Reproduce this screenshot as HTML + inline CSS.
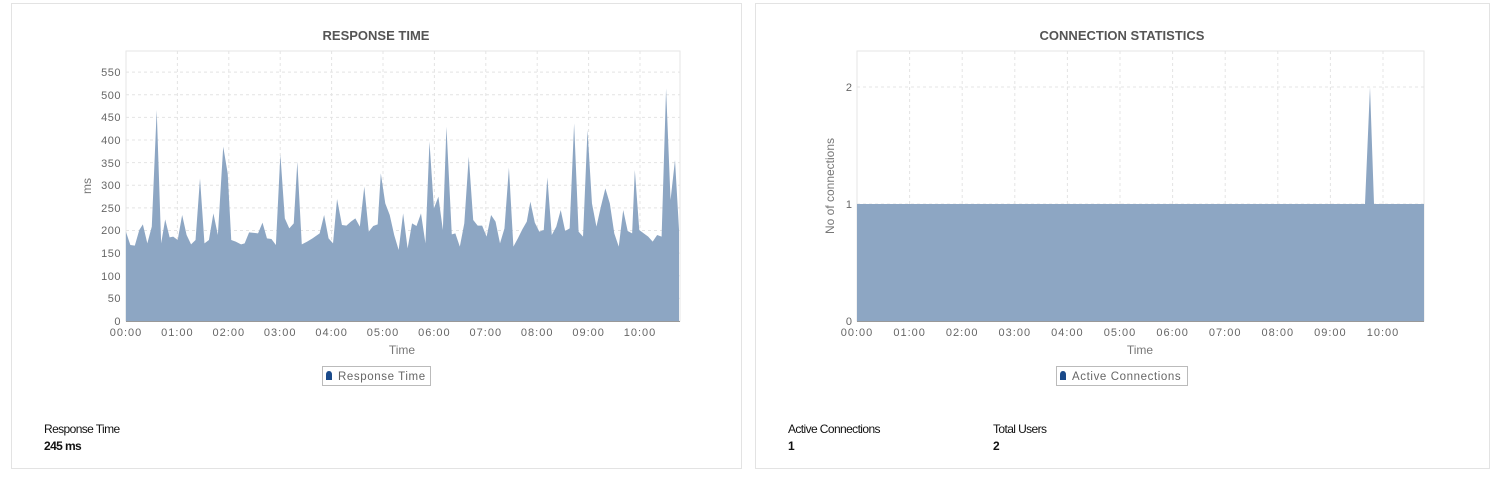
<!DOCTYPE html>
<html><head><meta charset="utf-8"><style>
body{margin:0;width:1500px;height:480px;background:#fff;position:relative;overflow:hidden;font-family:"Liberation Sans",sans-serif}
.card{position:absolute;border:1px solid #e3e3e3;background:#fff}
.t{position:absolute;font-size:12px;color:#111;letter-spacing:-0.6px}
.b{font-weight:bold}
svg text{font-family:"Liberation Sans",sans-serif}
</style></head><body>
<div class="card" style="left:11px;top:3px;width:729px;height:464px"></div>
<div class="card" style="left:755px;top:3px;width:733px;height:464px"></div>
<svg width="1500" height="480" style="position:absolute;left:0;top:0">
<!-- LEFT -->
<text x="376" y="40" text-anchor="middle" font-size="13" font-weight="bold" fill="#555">RESPONSE TIME</text>
<rect x="126" y="51" width="554" height="270" fill="#fff" stroke="#e6e6e6"/>
<g stroke="#e4e4e4" stroke-dasharray="3,3">
<line x1="126" x2="680" y1="298.4" y2="298.4"/><line x1="126" x2="680" y1="275.8" y2="275.8"/><line x1="126" x2="680" y1="253.1" y2="253.1"/><line x1="126" x2="680" y1="230.5" y2="230.5"/><line x1="126" x2="680" y1="207.9" y2="207.9"/><line x1="126" x2="680" y1="185.3" y2="185.3"/><line x1="126" x2="680" y1="162.6" y2="162.6"/><line x1="126" x2="680" y1="140" y2="140"/><line x1="126" x2="680" y1="117.4" y2="117.4"/><line x1="126" x2="680" y1="94.8" y2="94.8"/><line x1="126" x2="680" y1="72.1" y2="72.1"/>
<line x1="177.4" x2="177.4" y1="51" y2="321"/><line x1="228.8" x2="228.8" y1="51" y2="321"/><line x1="280.2" x2="280.2" y1="51" y2="321"/><line x1="331.6" x2="331.6" y1="51" y2="321"/><line x1="383" x2="383" y1="51" y2="321"/><line x1="434.4" x2="434.4" y1="51" y2="321"/><line x1="485.8" x2="485.8" y1="51" y2="321"/><line x1="537.2" x2="537.2" y1="51" y2="321"/><line x1="588.6" x2="588.6" y1="51" y2="321"/><line x1="640" x2="640" y1="51" y2="321"/>
</g>
<g transform="scale(0.44643,0.33333)"><polygon fill="#8da6c3" points="282,695 292,735 302,737 312,690 320,673 330,730 340,680 351,330 361,730 370,658 380,712 388,710 398,720 408,645 418,705 428,733 438,720 448,535 458,730 468,720 478,640 488,705 500,440 510,520 518,720 528,725 540,733 548,730 558,697 578,700 588,668 598,715 608,717 618,735 628,463 638,655 648,685 658,670 666,485 676,733 688,725 700,715 716,700 726,645 736,715 746,730 755,597 766,675 776,677 786,665 796,655 806,680 816,560 826,695 836,678 846,673 853,520 863,610 873,645 883,705 893,750 903,640 913,745 923,670 933,678 943,640 953,730 962,425 972,625 982,590 992,690 1000,380 1012,703 1020,700 1030,740 1040,670 1050,470 1060,660 1070,677 1080,677 1090,710 1100,645 1110,665 1120,730 1130,685 1140,503 1150,740 1160,715 1170,688 1180,665 1188,605 1198,668 1208,695 1218,690 1226,532 1236,705 1246,680 1256,630 1266,693 1276,685 1286,370 1296,695 1306,710 1316,390 1326,610 1336,680 1346,620 1356,565 1366,610 1376,700 1386,740 1396,630 1406,693 1416,700 1422,510 1432,690 1442,700 1452,710 1462,725 1472,705 1482,710 1492,265 1502,600 1512,480 1521,690 1521,963 282,963"/></g>
<line x1="126" x2="680" y1="321.5" y2="321.5" stroke="#999"/>
<g font-size="11" fill="#666" text-anchor="end" letter-spacing="0.5">
<text x="121" y="325">0</text><text x="121" y="302">50</text><text x="121" y="280">100</text><text x="121" y="257">150</text><text x="121" y="234">200</text><text x="121" y="212">250</text><text x="121" y="189">300</text><text x="121" y="167">350</text><text x="121" y="144">400</text><text x="121" y="121">450</text><text x="121" y="99">500</text><text x="121" y="76">550</text>
</g>
<g font-size="11" fill="#666" text-anchor="middle" letter-spacing="1">
<text x="126" y="336">00:00</text><text x="177.4" y="336">01:00</text><text x="228.8" y="336">02:00</text><text x="280.2" y="336">03:00</text><text x="331.6" y="336">04:00</text><text x="383" y="336">05:00</text><text x="434.4" y="336">06:00</text><text x="485.8" y="336">07:00</text><text x="537.2" y="336">08:00</text><text x="588.6" y="336">09:00</text><text x="640" y="336">10:00</text>
</g>
<text x="402" y="354" text-anchor="middle" font-size="12" fill="#777">Time</text>
<text transform="translate(91,186) rotate(-90)" text-anchor="middle" font-size="12" fill="#777">ms</text>
<rect x="322.5" y="366.5" width="108" height="19" fill="#fff" stroke="#bbb"/>
<path d="M326,380 L326,375 Q326,371 329,371 Q332,371 332,375 L332,380Z" fill="#1a4a8a"/>
<text x="338" y="380" font-size="11.5" fill="#666" letter-spacing="0.6">Response Time</text>
<!-- RIGHT -->
<text x="1122" y="40" text-anchor="middle" font-size="13" font-weight="bold" fill="#555">CONNECTION STATISTICS</text>
<rect x="857" y="51" width="567" height="270" fill="#fff" stroke="#e6e6e6"/>
<g stroke="#e4e4e4" stroke-dasharray="3,3">
<line x1="857" x2="1424" y1="87" y2="87"/><line x1="857" x2="1424" y1="204" y2="204"/>
<line x1="909.6" x2="909.6" y1="51" y2="321"/><line x1="962.2" x2="962.2" y1="51" y2="321"/><line x1="1014.8" x2="1014.8" y1="51" y2="321"/><line x1="1067.4" x2="1067.4" y1="51" y2="321"/><line x1="1120" x2="1120" y1="51" y2="321"/><line x1="1172.6" x2="1172.6" y1="51" y2="321"/><line x1="1225.2" x2="1225.2" y1="51" y2="321"/><line x1="1277.8" x2="1277.8" y1="51" y2="321"/><line x1="1330.4" x2="1330.4" y1="51" y2="321"/><line x1="1383" x2="1383" y1="51" y2="321"/>
</g>
<polygon fill="#8da6c3" points="857,204 1365,204 1370,87 1374,204 1424,204 1424,321 857,321"/>
<line x1="857" x2="1424" y1="321.5" y2="321.5" stroke="#999"/>
<g font-size="11" fill="#666" text-anchor="end"><text x="852" y="325">0</text><text x="852" y="208">1</text><text x="852" y="91">2</text></g>
<g font-size="11" fill="#666" text-anchor="middle" letter-spacing="1">
<text x="857" y="336">00:00</text><text x="909.6" y="336">01:00</text><text x="962.2" y="336">02:00</text><text x="1014.8" y="336">03:00</text><text x="1067.4" y="336">04:00</text><text x="1120" y="336">05:00</text><text x="1172.6" y="336">06:00</text><text x="1225.2" y="336">07:00</text><text x="1277.8" y="336">08:00</text><text x="1330.4" y="336">09:00</text><text x="1383" y="336">10:00</text>
</g>
<text x="1140" y="354" text-anchor="middle" font-size="12" fill="#777">Time</text>
<text transform="translate(834,186) rotate(-90)" text-anchor="middle" font-size="12" fill="#777">No of connections</text>
<rect x="1056.5" y="366.5" width="131" height="19" fill="#fff" stroke="#bbb"/>
<path d="M1060,380 L1060,375 Q1060,371 1063,371 Q1066,371 1066,375 L1066,380Z" fill="#1a4a8a"/>
<text x="1072" y="380" font-size="11.5" fill="#666" letter-spacing="0.6">Active Connections</text>
</svg>
<div class="t" style="left:44px;top:422px">Response Time</div>
<div class="t b" style="left:44px;top:439px">245 ms</div>
<div class="t" style="left:788px;top:422px">Active Connections</div>
<div class="t b" style="left:788px;top:439px">1</div>
<div class="t" style="left:993px;top:422px">Total Users</div>
<div class="t b" style="left:993px;top:439px">2</div>
</body></html>
